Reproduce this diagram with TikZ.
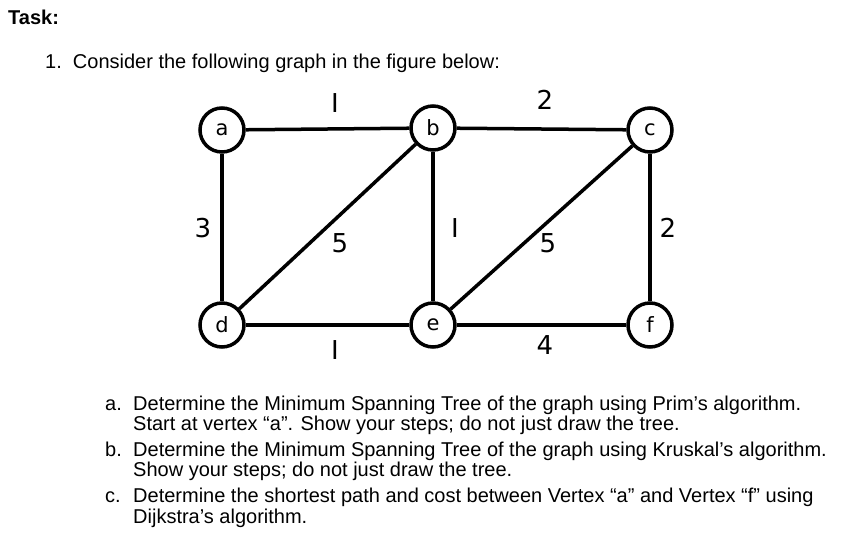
\documentclass[tikz,border=0pt]{standalone}
\usepackage{fontspec}
\setmainfont{Liberation Sans}
\newfontfamily\gfont{DejaVu Sans}
\begin{document}
\begin{tikzpicture}[x=1pt,y=-1pt,
  vtx/.style={circle,draw,line width=3.5pt,minimum size=44pt,inner sep=0pt,fill=white,font=\gfont\fontsize{21}{22}\selectfont},
  edge/.style={line width=3.5pt},
  wt/.style={font=\gfont\fontsize{26}{28}\selectfont},
  txt/.style={anchor=base west,inner sep=0pt,font=\fontsize{20}{22}\selectfont}]
\useasboundingbox (0,0) rectangle (860,538);
\node[txt,font=\bfseries\fontsize{20}{22}\selectfont] (t) at (8,24) {Task:};
\node[txt] (q) at (45,68) {1.\ \ Consider the following graph in the figure below:};
\node[vtx] (a) at (222,130) {a};
\node[vtx] (b) at (433,128) {b};
\node[vtx] (c) at (650,130) {c};
\node[vtx] (d) at (222,325) {d};
\node[vtx] (e) at (433,325) {e};
\node[vtx] (f) at (650,325) {f};
\draw[edge] (a)--(b); \draw[edge] (b)--(c); \draw[edge] (a)--(d);
\draw[edge] (b)--(e); \draw[edge] (c)--(f); \draw[edge] (d)--(e);
\draw[edge] (e)--(f); \draw[edge] (d)--(b); \draw[edge] (e)--(c);
\node[wt] (w1) at (335,103) {I};
\node[wt] (w2) at (545,100) {2};
\node[wt] (w3) at (203,228) {3};
\node[wt] (w4) at (340,243) {5};
\node[wt] (w5) at (455,228) {I};
\node[wt] (w6) at (548,243) {5};
\node[wt] (w7) at (668,228) {2};
\node[wt] (w8) at (335,350) {I};
\node[wt] (w9) at (545,345) {4};
\node[txt] (la) at (105,410) {a.};
\node[txt] (a1) at (133,410) {Determine the Minimum Spanning Tree of the graph using Prim’s algorithm.};
\node[txt] (a2) at (133,430) {Start at vertex “a”. Show your steps; do not just draw the tree.};
\node[txt] (lb) at (105,456) {b.};
\node[txt] (b1) at (133,456) {Determine the Minimum Spanning Tree of the graph using Kruskal’s algorithm.};
\node[txt] (b2) at (133,476) {Show your steps; do not just draw the tree.};
\node[txt] (lc) at (105,502) {c.};
\node[txt] (c1) at (133,502) {Determine the shortest path and cost between Vertex “a” and Vertex “f” using};
\node[txt] (c2) at (133,523) {Dijkstra’s algorithm.};
\end{tikzpicture}
\end{document}
